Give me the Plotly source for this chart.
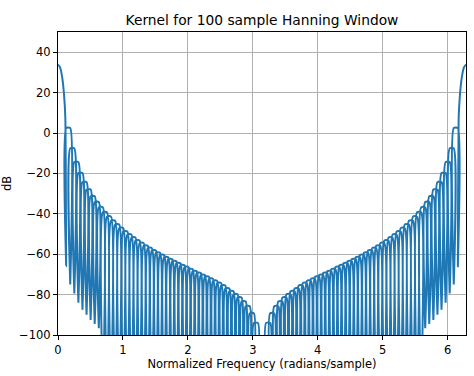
import numpy as np
import plotly.graph_objects as go

# ---- data ----
n_bins = 100                      # FFT bins across 0..2*pi
bin_width = 2 * np.pi / n_bins    # radians per bin

# main lobe (left edge and right edge), bin positions and dB values
main_left_bins = [0.0, 0.5, 1.0, 1.5, 1.8]
main_left_db = [33.9, 32.5, 27.9, 18.5, 7.2]
main_right_bins = [98.2, 98.5, 99.0, 99.5, 100.0]
main_right_db = [7.2, 18.5, 27.9, 32.5, 33.9]

# side-lobe peak levels, lobes between nulls 2|3, 3|4, ..., 97|98  (96 values)
sidelobe_peak_db = [
    2.5, -7.6, -14.4, -19.8, -24.3, -28.0, -31.3, -34.2, -36.8, -39.2,
    -41.4, -43.4, -45.3, -47.1, -48.8, -50.3, -51.8, -53.2, -54.5, -55.8,
    -57.0, -58.2, -59.3, -60.4, -61.5, -62.5, -63.5, -64.5, -65.5, -66.4,
    -67.4, -68.4, -69.3, -70.3, -71.2, -72.2, -73.2, -74.3, -75.5, -77.0,
    -78.3, -79.8, -81.5, -83.4, -85.8, -89.2, -94.0, -106.0,
    -106.0, -94.0, -89.2, -85.8, -83.4, -81.5, -79.8, -78.3,
    -77.0, -75.5, -74.3, -73.2, -72.2, -71.2, -70.3, -69.3, -68.4, -67.4,
    -66.4, -65.5, -64.5, -63.5, -62.5, -61.5, -60.4, -59.3, -58.2, -57.0,
    -55.8, -54.5, -53.2, -51.8, -50.3, -48.8, -47.1, -45.3, -43.4, -41.4,
    -39.2, -36.8, -34.2, -31.3, -28.0, -24.3, -19.8, -14.4, -7.6, 2.5,
]

# nulls between lobes at bins 2, 3, ..., 98 (97 values; below -100 is off-axis)
null_db = [
    -66.0, -75.0, -79.5, -84.0, -87.5, -90.0, -92.5, -94.5, -96.7,
    -130, -130, -130, -130, -130, -130, -130, -130, -130, -130,
    -130, -130, -130, -130, -130, -130, -130, -130, -130, -130,
    -130, -130, -130, -130, -130, -130, -130, -130, -130, -130,
    -130, -130, -130, -130, -130, -130, -130, -130, -130, -130,
    -130, -130, -130, -130, -130, -130, -130, -130, -130, -130,
    -130, -130, -130, -130, -130, -130, -130, -130, -130, -130,
    -130, -130, -130, -130, -130, -130, -130, -130, -130, -130,
    -130, -130, -130, -130, -130, -130, -130, -130, -130,
    -96.7, -94.5, -92.5, -90.0, -87.5, -84.0, -79.5, -75.0, -66.0,
]

x_ticks = [0, 1, 2, 3, 4, 5, 6]
y_ticks = [-100, -80, -60, -40, -20, 0, 20, 40]

# ---- assemble the curve: each side lobe spans two neighbouring nulls ----
bins = list(main_left_bins)
vals = list(main_left_db)
for i, nd in enumerate(null_db):
    b = 2 + i
    bins.append(b)
    vals.append(nd)
    if i < len(sidelobe_peak_db):
        bins += [b, b + 1]
        vals += [sidelobe_peak_db[i], sidelobe_peak_db[i]]
bins += main_right_bins
vals += main_right_db
freq = np.array(bins) * bin_width

fig = go.Figure()
fig.add_trace(go.Scatter(
    x=freq, y=vals, mode="lines",
    line=dict(color="#1f77b4", width=2.0, shape="spline", smoothing=0.6),
    showlegend=False,
))

axis_common = dict(
    showline=True, linecolor="black", linewidth=1, mirror=True,
    ticks="outside", ticklen=4, tickwidth=1, tickcolor="black",
    showgrid=True, gridcolor="#b0b0b0", gridwidth=1,
    zeroline=False,
    tickfont=dict(family="DejaVu Sans", size=11.5, color="black"),
)

fig.update_xaxes(
    range=[0, 2 * np.pi], tickvals=x_ticks,
    title=dict(text="Normalized Frequency (radians/sample)",
               font=dict(family="DejaVu Sans", size=11.5, color="black"),
               standoff=3),
    **axis_common,
)
fig.update_yaxes(
    range=[-100, 50], tickvals=y_ticks,
    title=dict(text="dB", font=dict(family="DejaVu Sans", size=11.5, color="black"),
               standoff=6),
    **axis_common,
)

fig.update_layout(
    width=474, height=376,
    margin=dict(l=58, r=8, t=32, b=41, autoexpand=False),
    paper_bgcolor="white", plot_bgcolor="white",
    font=dict(family="DejaVu Sans", color="black"),
    title=dict(text="Kernel for 100 sample Hanning Window",
               font=dict(family="DejaVu Sans", size=13.8, color="black"),
               x=262 / 474, xanchor="center", xref="container",
               y=1 - 20 / 376, yanchor="middle", yref="container"),
)

fig.write_html(
    "out.html",
    config={"displayModeBar": False},
    post_script="document.body.style.margin='0';document.body.style.padding='0';",
)
